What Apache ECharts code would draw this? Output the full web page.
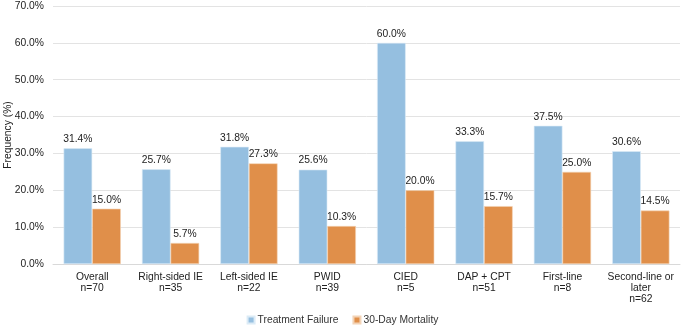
<!DOCTYPE html>
<html>
	<head>
		<meta charset="UTF-8">
		<title></title>
		<script src="https://cdn.jsdelivr.net/npm/echarts@6/dist/echarts.min.js"></script>
		<style>
			body { margin: 0; background: #fff; }
			#chart { width: 685px; height: 328px; }
		</style>
	</head>
	<body>
		<div id="chart"></div>
		<script>
			var categories = ['Overall\nn=70', 'Right-sided IE\nn=35', 'Left-sided IE\nn=22', 'PWID\nn=39',
				'CIED\nn=5', 'DAP + CPT\nn=51', 'First-line\nn=8', 'Second-line or\nlater\nn=62'];
			var treatmentFailure = [31.4, 25.7, 31.8, 25.6, 60.0, 33.3, 37.5, 30.6];
			var mortality = [15.0, 5.7, 27.3, 10.3, 20.0, 15.7, 25.0, 14.5];

			var chart = echarts.init(document.getElementById('chart'));

			// 数值标签
			var label = {
				show: true,
				position: 'top',
				distance: 4,
				color: '#222',
				fontSize: 10.3,
				fontFamily: 'Liberation Sans',
				formatter: function(p) { return p.value.toFixed(1) + '%'; }
			};

			var option = {
				animation: false,
				textStyle: { fontFamily: 'Liberation Sans' },
				grid: { left: 53, right: 5, top: 6, bottom: 64, containLabel: false, outerBoundsMode: 'none' },
				legend: {
					bottom: -2,
					left: 'center',
					itemWidth: 7,
					itemHeight: 7,
					itemGap: 14,
					icon: 'rect',
					textStyle: { fontSize: 10.3, color: '#333', padding: [0, 0, 0, -2] },
					data: ['Treatment Failure', '30-Day Mortality']
				},
				xAxis: {
					type: 'category',
					data: categories,
					axisTick: { show: false },
					axisLine: { lineStyle: { color: '#d9d9d9' } },
					axisLabel: { color: '#222', fontSize: 10.3, lineHeight: 11, margin: 8, interval: 0 }
				},
				yAxis: {
					type: 'value',
					min: 0,
					max: 70,
					interval: 10,
					name: 'Frequency (%)',
					nameLocation: 'middle',
					nameGap: 40,
					nameMoveOverlap: false,
					nameTextStyle: { color: '#222', fontSize: 10.3 },
					axisLabel: { color: '#222', fontSize: 10.3, margin: 9,
						formatter: function(v) { return v.toFixed(1) + '%'; } },
					splitLine: { lineStyle: { color: '#e3e3e3' } }
				},
				series: [{
					name: 'Treatment Failure',
					type: 'bar',
					data: treatmentFailure,
					barGap: '0%',
					barCategoryGap: '27%',
					itemStyle: { color: '#95bfe0', borderColor: '#dcebf6', borderWidth: 0.6 },
					label: label
				}, {
					name: '30-Day Mortality',
					type: 'bar',
					data: mortality,
					itemStyle: { color: '#e08f4a', borderColor: '#f3d3b6', borderWidth: 0.6 },
					label: label
				}]
			};

			chart.setOption(option);
		</script>
	</body>
</html>
